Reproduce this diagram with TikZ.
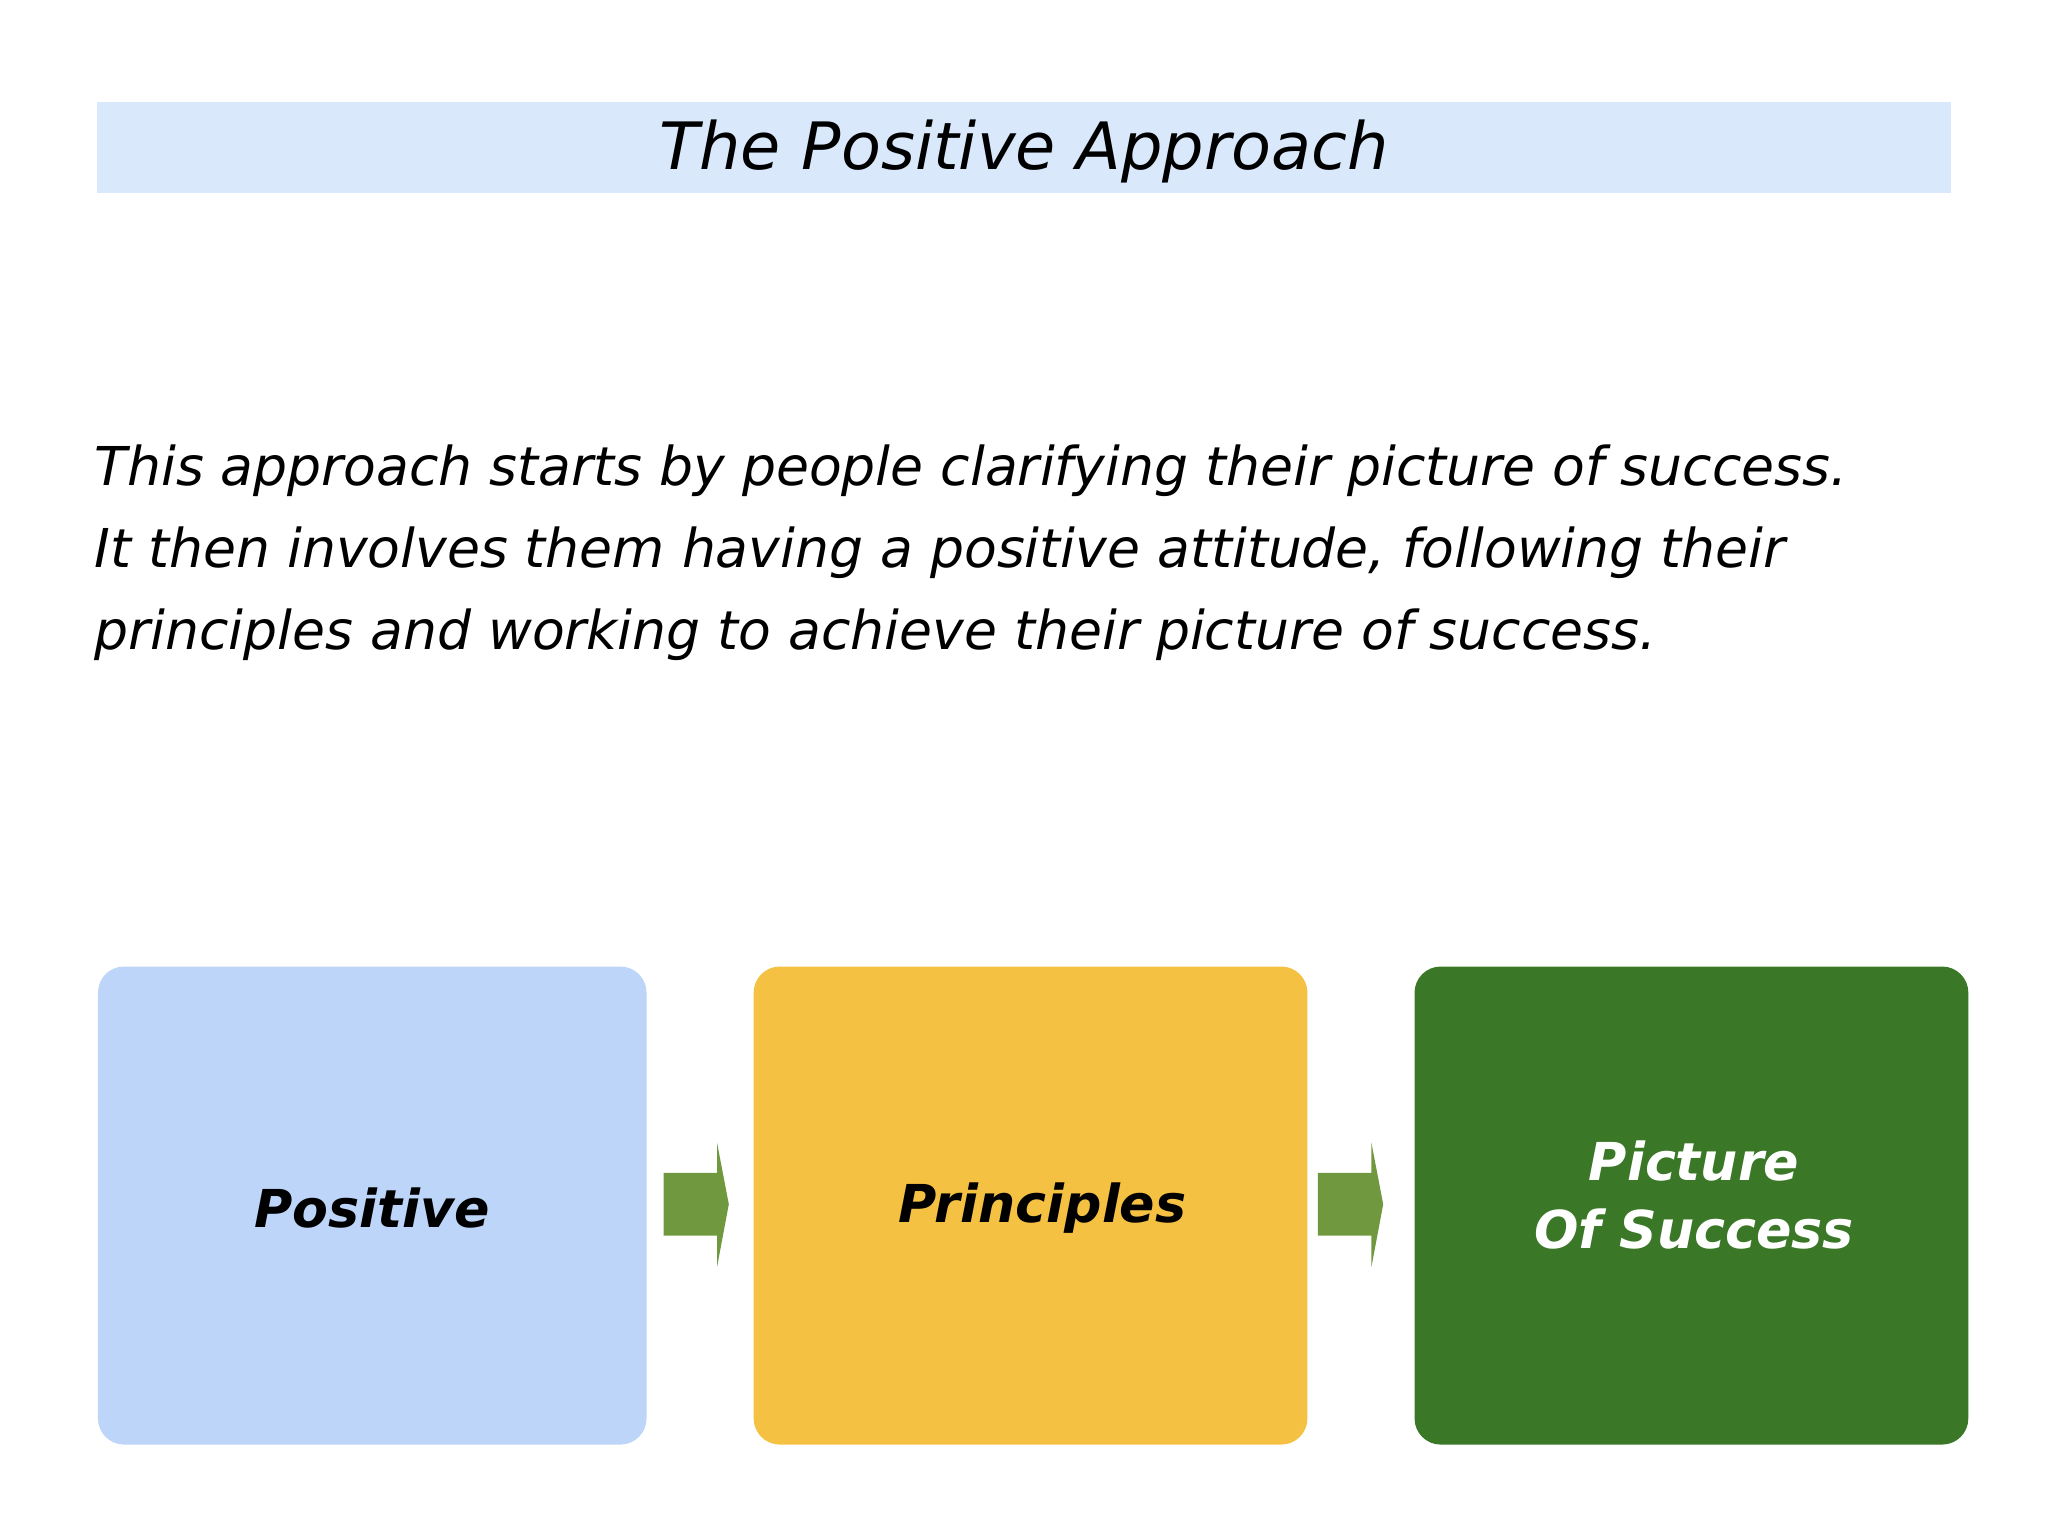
\documentclass[tikz,border=0pt]{standalone}
\usepackage{fontspec}
\setmainfont{DejaVu Sans}
\definecolor{band}{HTML}{DAE8FC}
\definecolor{cA}{HTML}{BDD5F8}
\definecolor{cB}{HTML}{F4C143}
\definecolor{cC}{HTML}{3A7726}
\definecolor{arr}{HTML}{70993F}
\begin{document}
\begin{tikzpicture}[x=0.5pt,y=-0.5pt,
  box/.style={rounded corners=10pt,inner sep=0pt},
  lbl/.style={font=\fontsize{20}{26}\selectfont\bfseries\itshape,align=center}]
\useasboundingbox (0,0) rectangle (1568,1176);
\fill[band] (74,78) rectangle (1494,148);
\node[font=\fontsize{25}{30}\selectfont\itshape] (title) at (784,116) {The Positive Approach};
\node[anchor=north west,align=left,font=\fontsize{20.5}{31.5}\selectfont\itshape,inner sep=0pt] (body) at (72,340)
{This approach starts by people clarifying their picture of success.\\
It then involves them having a positive attitude, following their\\
principles and working to achieve their picture of success.};
\fill[cA,box] (75,740) rectangle (495,1106);
\fill[cB,box] (577,740) rectangle (1001,1106);
\fill[cC,box] (1083,740) rectangle (1507,1106);
\node[lbl] (p1) at (285,925) {Positive};
\node[lbl] (p2) at (798,925) {Principles};
\node[lbl,text=white] (p3) at (1297,915) {Picture\\Of Success};
\fill[arr] (508,898) -- (549,898) -- (549,875) -- (558,922) -- (549,970) -- (549,946) -- (508,946) -- cycle;
\fill[arr] (1009,898) -- (1050,898) -- (1050,875) -- (1059,922) -- (1050,970) -- (1050,946) -- (1009,946) -- cycle;
\end{tikzpicture}
\end{document}
